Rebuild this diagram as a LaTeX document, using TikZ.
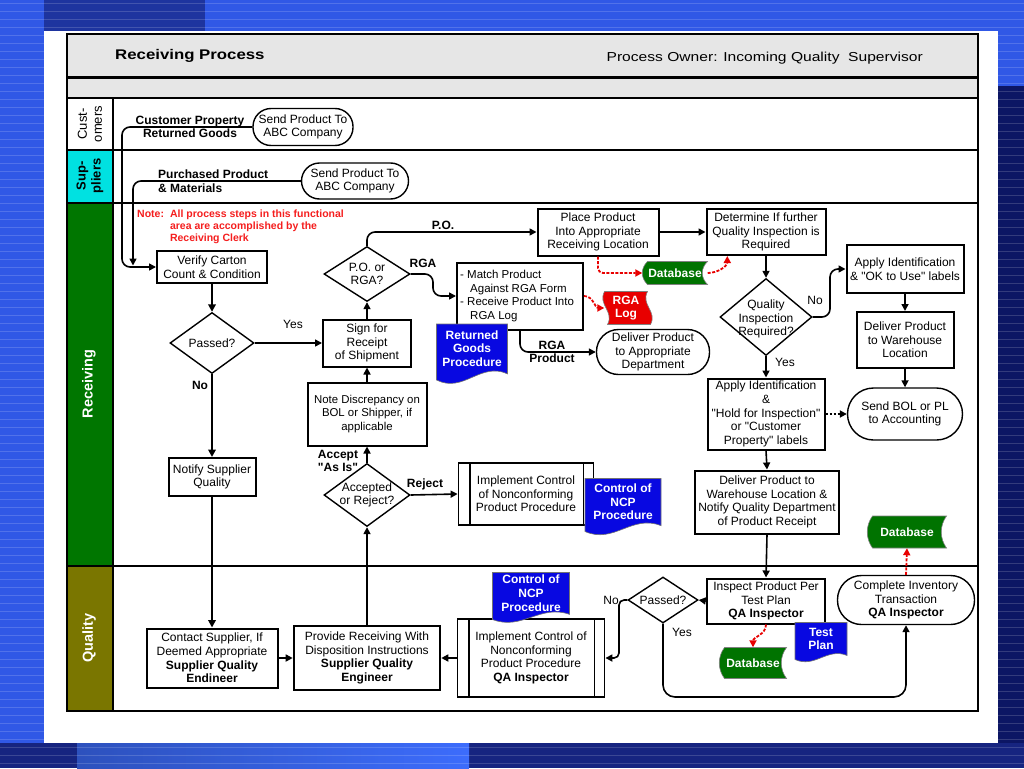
\documentclass[tikz,border=0pt]{standalone}
\usepackage{fontspec}
\setmainfont{Liberation Sans}[Ligatures=TeXOff]
\usepackage{graphicx}
\usetikzlibrary{arrows.meta,shapes.geometric,calc}
\definecolor{slideblue}{RGB}{48,88,230}
\definecolor{slidedark}{RGB}{22,36,128}
\definecolor{slidenavy}{RGB}{12,22,100}
\definecolor{slidebright}{RGB}{60,108,252}
\definecolor{hdrgray}{RGB}{230,230,230}
\definecolor{lanecyan}{RGB}{0,225,225}
\definecolor{lanegreen}{RGB}{0,118,0}
\definecolor{laneolive}{RGB}{122,118,0}
\definecolor{dbgreen}{RGB}{0,115,0}
\definecolor{docblue}{RGB}{8,8,225}
\definecolor{logred}{RGB}{232,0,0}
\definecolor{notered}{RGB}{245,30,30}

% document symbol: name, cx, cy, w, h, fill, text
\newcommand\docshape[7]{%
  \pgfmathsetmacro\shxa{#2-#4/2}%
  \pgfmathsetmacro\shxb{#2+#4/2}%
  \pgfmathsetmacro\shya{#3-#5/2}%
  \pgfmathsetmacro\shyb{#3+#5/2}%
  \pgfmathsetmacro\sham{#5*0.11}%
  \pgfmathsetmacro\shqa{#2-#4*0.12}%
  \pgfmathsetmacro\shqb{#2+#4*0.12}%
  \pgfmathsetmacro\shty{#3-#5*0.06}%
  \filldraw[fill=#6, draw=black!55, line width=0.6]
    (\shxa,\shya) -- (\shxb,\shya) -- (\shxb,\shyb-\sham)
    .. controls (\shqb,\shyb-3*\sham) and (\shqa,\shyb+2.2*\sham) .. (\shxa,\shyb) -- cycle;
  \node[doctext] (#1) at (#2,\shty) {#7};%
}
% stored data symbol: name, cx, cy, w, h, text
\newcommand\dbshape[6]{%
  \pgfmathsetmacro\shxa{#2-#4/2}%
  \pgfmathsetmacro\shxb{#2+#4/2}%
  \pgfmathsetmacro\shya{#3-#5/2}%
  \pgfmathsetmacro\shyb{#3+#5/2}%
  \pgfmathsetmacro\shha{#3-#5*0.2}%
  \pgfmathsetmacro\shhb{#3+#5*0.2}%
  \filldraw[fill=dbgreen, draw=black!50, line width=0.6]
    (\shxa+5,\shya) -- (\shxb,\shya) .. controls (\shxb-7,\shha) and (\shxb-7,\shhb) .. (\shxb,\shyb)
    -- (\shxa+5,\shyb) .. controls (\shxa-2,\shhb) and (\shxa-2,\shha) .. (\shxa+5,\shya) -- cycle;
  \node[doctext, minimum width=#4, minimum height=#5] (#1) at (#2,#3) {#6};%
}
% tape symbol: name, cx, cy, w, h, text
\newcommand\tapeshape[6]{%
  \pgfmathsetmacro\shxa{#2-#4/2}%
  \pgfmathsetmacro\shxb{#2+#4/2}%
  \pgfmathsetmacro\shya{#3-#5/2}%
  \pgfmathsetmacro\shyb{#3+#5/2}%
  \pgfmathsetmacro\shha{#3-#5*0.1}%
  \pgfmathsetmacro\shhb{#3+#5*0.1}%
  \filldraw[fill=logred, draw=black!50, line width=0.6]
    (\shxa,\shya) -- (\shxb,\shya) .. controls (\shxb-7,\shha) and (\shxb+10,\shhb) .. (\shxb+3,\shyb)
    -- (\shxa+3,\shyb) .. controls (\shxa+10,\shhb) and (\shxa-7,\shha) .. (\shxa,\shya) -- cycle;
  \node[doctext, minimum width=#4, minimum height=#5] (#1) at (#2,#3) {#6};%
}

\begin{document}
\begin{tikzpicture}[x=1pt,y=-1pt,
  txt/.style={font=\fontsize{12}{13.6}\selectfont, align=center, inner sep=0pt},
  bx/.style n args={2}{txt, draw, line width=2, fill=white, minimum width=#1, minimum height=#2},
  dmd/.style n args={2}{draw, diamond, line width=1.4, fill=white, minimum width=#1, minimum height=#2, inner sep=0pt},
  stad/.style n args={3}{txt, draw, line width=1.4, fill=white, rounded corners=#3, minimum width=#1, minimum height=#2},
  lbl/.style={txt},
  blbl/.style={txt, font=\bfseries\fontsize{12}{13.6}\selectfont},
  doctext/.style={txt, text=white, font=\bfseries\fontsize{12}{13.6}\selectfont},
  arr/.style={line width=1.6, -{Triangle[length=7pt,width=7pt]}},
  thickarr/.style={line width=2.8, -{Triangle[length=7.5pt,width=7.5pt]}},
  reddot/.style={color=logred, line width=1.8, dash pattern=on 3pt off 1.5pt, -{Triangle[length=7pt,width=7pt]}},
  blkdot/.style={line width=2.4, dash pattern=on 2.5pt off 1.5pt, -{Triangle[length=7pt,width=7pt]}},
  lanetxt/.style={txt, rotate=90},
]
\useasboundingbox (0,0) rectangle (1024,768);
% ---------- slide background ----------
\fill[slideblue] (0,0) rectangle (1024,768);
\fill[slidedark!70!slideblue] (44,0) rectangle (205,31);
\fill[slidenavy] (998,86) rectangle (1024,768);
\fill[slidedark] (0,743) rectangle (1024,768);
\shade[left color=slidebright!75!black, right color=slidebright] (77,743) rectangle (469,768);
\foreach \yy in {3,11,...,767} \draw[white, opacity=0.16, line width=0.8] (0,\yy) -- (1024,\yy);
\fill[white] (44,31) rectangle (998,743);
% ---------- frame and lanes ----------
\fill[hdrgray] (67,34) rectangle (978,98);
\fill[white] (67,98) rectangle (113,150);
\fill[lanecyan] (67,150) rectangle (113,203);
\fill[lanegreen] (67,203) rectangle (113,566);
\fill[laneolive] (67,566) rectangle (113,711);
\draw[line width=2.2] (67,77.5) -- (978,77.5);
\draw[line width=2.2] (67,98) -- (978,98);
\draw[line width=1.8] (67,150) -- (978,150);
\draw[line width=1.8] (67,203) -- (978,203);
\draw[line width=2.2] (67,566) -- (978,566);
\draw[line width=1.8] (113,98) -- (113,711);
\draw[line width=2.6] (67,34) rectangle (978,711);

\node[anchor=west, inner sep=0pt] (title) at (115,56) {\fontsize{14}{16}\selectfont\scalebox{1.2}[1]{\bfseries Receiving Process}};
\node[anchor=east, inner sep=0pt] (owner) at (923,58) {\fontsize{13}{15}\selectfont\scalebox{1.2}[1]{Process Owner: Incoming Quality\ \ Supervisor}};

\node[lanetxt, font=\fontsize{13}{15}\selectfont] (lcust) at (90,124) {Cust-\\omers};
\node[lanetxt, font=\bfseries\fontsize{13}{15}\selectfont] (lsup) at (90,176) {Sup-\\pliers};
\node[lanetxt, text=white, font=\bfseries\fontsize{14.5}{16}\selectfont] (lrec) at (89,384) {Receiving};
\node[lanetxt, text=white, font=\bfseries\fontsize{14.5}{16}\selectfont] (lqual) at (89,638) {Quality};

% ---------- customers / suppliers ----------
\node[blbl] (custlbl) at (190,127) {Customer Property\\Returned Goods};
\node[stad={100}{37}{18}] (cust) at (303,127) {Send Product To\\ABC Company};
\node[blbl, align=left, anchor=west] (suplbl) at (158,181) {Purchased Product\\\& Materials};
\node[stad={107}{36}{18}] (sup) at (355,181) {Send Product To\\ABC Company};

% ---------- receiving ----------
\node[anchor=north west, inner sep=0pt, text=notered, font=\bfseries\fontsize{10.5}{12}\selectfont] (notetxt) at (137,209)
  {\begin{tabular}{@{}l@{\hspace{6pt}}l@{}}Note: & All process steps in this functional\\ & area are accomplished by the\\ & Receiving Clerk\end{tabular}};

\node[bx={110}{32}] (verify) at (212,267) {Verify Carton\\Count \& Condition};
\node[dmd={84}{61}] (passed1) at (212,343) {};
\node[lbl] (passed1t) at (212,343) {Passed?};
\node[bx={88}{47}] (sign) at (367,343) {Sign for\\Receipt\\of Shipment};
\node[dmd={86}{55}] (po) at (367,274) {};
\node[lbl] (pot) at (367,274) {P.O. or\\RGA?};
\node[bx={119}{63}, font=\fontsize{11.4}{13.6}\selectfont] (note) at (367,414) {Note Discrepancy on\\BOL or Shipper, if\\applicable};
\node[dmd={86}{63}] (accepted) at (367,495) {};
\node[lbl] (acct) at (367,495) {Accepted\\or Reject?};
\node[bx={87}{38}] (notify) at (212,477) {Notify Supplier\\Quality};
\node[bx={121}{47}] (place) at (598,232) {Place Product\\Into Appropriate\\Receiving Location};
\node[bx={126}{67}] (match) at (520,296) {};
\node[lbl, align=left, anchor=west, font=\fontsize{11.5}{13.6}\selectfont] (matcht) at (460,296)
  {- Match Product\\\hspace*{10pt}Against RGA Form\\- Receive Product Into\\\hspace*{10pt}RGA Log};
\node[bx={119}{46}] (determine) at (766,232) {Determine If further\\Quality Inspection is\\Required};
\node[dmd={92}{77}] (qir) at (766,317) {};
\node[lbl] (qirt) at (766,319) {Quality\\Inspection\\Required?};
\node[bx={117}{48}] (applyok) at (905,269) {Apply Identification\\\& "OK to Use" labels};
\node[bx={97}{56}] (delwh) at (905,340) {Deliver Product\\to Warehouse\\Location};
\node[stad={115}{52}{26}] (sendbol) at (905,414) {Send BOL or PL\\to Accounting};
\node[bx={117}{71}] (applyhold) at (766,414) {Apply Identification\\\&\\"Hold for Inspection"\\or "Customer\\Property" labels};
\node[bx={144}{63}] (notifyq) at (767,502) {Deliver Product to\\Warehouse Location \&\\Notify Quality Department\\of Product Receipt};
\node[stad={113}{45}{22}] (deldept) at (653,352) {Deliver Product\\to Appropriate\\Department};
\node[bx={135}{62}, line width=1.8] (implR) at (526,494) {Implement Control\\of Nonconforming\\Product Procedure};
\draw[line width=1.8] ($(implR.north west)+(12,0)$) -- ($(implR.south west)+(12,0)$);
\draw[line width=1.8] ($(implR.north east)+(-11,0)$) -- ($(implR.south east)+(-11,0)$);

% ---------- quality ----------
\node[bx={118}{45}] (inspect) at (766,601) {Inspect Product Per\\Test Plan\\\textbf{QA Inspector}};
\node[stad={137}{49}{24}] (complete) at (906,600) {Complete Inventory\\Transaction\\\textbf{QA Inspector}};
\node[dmd={70}{46}] (passed2) at (663,600) {};
\node[lbl] (passed2t) at (663,600) {Passed?};
\node[bx={147}{78}, line width=1.8] (implQA) at (531,658) {Implement Control of\\Nonconforming\\Product Procedure\\\textbf{QA Inspector}};
\draw[line width=1.8] ($(implQA.north west)+(12,0)$) -- ($(implQA.south west)+(12,0)$);
\draw[line width=1.8] ($(implQA.north east)+(-11,0)$) -- ($(implQA.south east)+(-11,0)$);
\node[bx={146}{64}, line width=2.6] (provide) at (367,658) {Provide Receiving With\\Disposition Instructions\\\textbf{Supplier Quality}\\\textbf{Engineer}};
\node[bx={131}{59}] (contact) at (212,658) {Contact Supplier, If\\Deemed Appropriate\\\textbf{Supplier Quality}\\\textbf{Endineer}};

% ---------- data stores ----------
\dbshape{db1}{675}{273}{65}{23}{Database}
\dbshape{db3}{907}{532}{79}{32}{Database}
\dbshape{db2}{753}{663}{67}{31}{Database}
\tapeshape{rgalog}{626}{308}{43}{33}{RGA\\Log}

% ---------- connector labels ----------
\node[lbl] (lyes1) at (293,324) {Yes};
\node[blbl] (lno1) at (200,385) {No};
\node[blbl] (lpo) at (443,225) {P.O.};
\node[blbl] (lrga) at (423,263) {RGA};
\node[blbl] (lrgap) at (552,352) {RGA\\Product};
\node[blbl] (laccept) at (338,461) {Accept\\"As Is"};
\node[blbl] (lreject) at (425,484) {Reject};
\node[lbl] (lno2) at (815,300) {No};
\node[lbl] (lyes2) at (785,362) {Yes};
\node[lbl] (lno3) at (611,600) {No};
\node[lbl] (lyes3) at (682,632) {Yes};

% ---------- connectors ----------
\coordinate (supjoin) at (133,265.5);
\draw[arr, rounded corners=8] (cust.west) -- (122,127) -- (122,267) -- (verify.west);
\draw[arr, rounded corners=8] (sup.west) -- (133,181) -- (supjoin);
\draw[thickarr] (verify.south) -- (passed1.north);
\draw[arr] (passed1.east) -- (sign.west);
\draw[thickarr] (passed1.south) -- (notify.north);
\draw[thickarr] (notify.south) -- (contact.north);
\draw[arr] (sign.north) -- (po.south);
\draw[arr, rounded corners=8] (po.north) -- (367,232) -- (place.west);
\draw[arr, rounded corners=8] (po.east) -- (433,274) -- (433,296) -- (match.west);
\draw[reddot] (match.east) to[out=0,in=180] (rgalog.west);
\draw[reddot, rounded corners=5] (place.south) -- (598,273) -- (db1.west);
\draw[reddot] (db1.east) to[out=0,in=-90] ($(determine.south west)!0.18!(determine.south east)$);
\draw[arr] (place.east) -- (determine.west);
\draw[arr] (determine.south) -- (qir.north);
\draw[arr, rounded corners=8] (qir.east) -- (830,317) -- (830,269) -- (applyok.west);
\draw[arr] (applyok.south) -- (delwh.north);
\draw[arr] (delwh.south) -- (sendbol.north);
\draw[arr] (qir.south) -- (applyhold.north);
\draw[blkdot] (applyhold.east) -- (sendbol.west);
\draw[arr] (applyhold.south) -- (notifyq.north);
\draw[arr] (notifyq.south) -- (inspect.north);
\draw[arr] (inspect.west) -- (passed2.east);
\draw[arr, rounded corners=5] (passed2.west) -- (619,600) -- (619,658) -- (implQA.east);
\draw[arr, rounded corners=12] (passed2.south) -- (663,697) -- (906,697) -- (complete.south);
\draw[reddot] (complete.north) -- (db3.south);
\draw[reddot] (inspect.south) to[out=-90,in=90] (db2.north);
\draw[arr] (implQA.west) -- (provide.east);
\draw[arr] (contact.east) -- (provide.west);
\draw[arr] (provide.north) -- (accepted.south);
\draw[arr] (accepted.north) -- (note.south);
\draw[arr] (note.north) -- (sign.south);
\draw[arr] (accepted.east) -- (implR.west);
\draw[arr, rounded corners=8] (match.south) -- (520,352) -- (deldept.west);

% ---------- documents (on top) ----------
\docshape{retgoods}{472}{352}{71}{56}{docblue}{Returned\\Goods\\Procedure}
\docshape{ncpR}{623}{505}{76}{53}{docblue}{Control of\\NCP\\Procedure}
\docshape{ncpQ}{531}{596}{77}{47}{docblue}{Control of\\NCP\\Procedure}
\docshape{testplan}{821}{641}{52}{37}{docblue}{Test\\Plan}
\end{tikzpicture}
\end{document}
